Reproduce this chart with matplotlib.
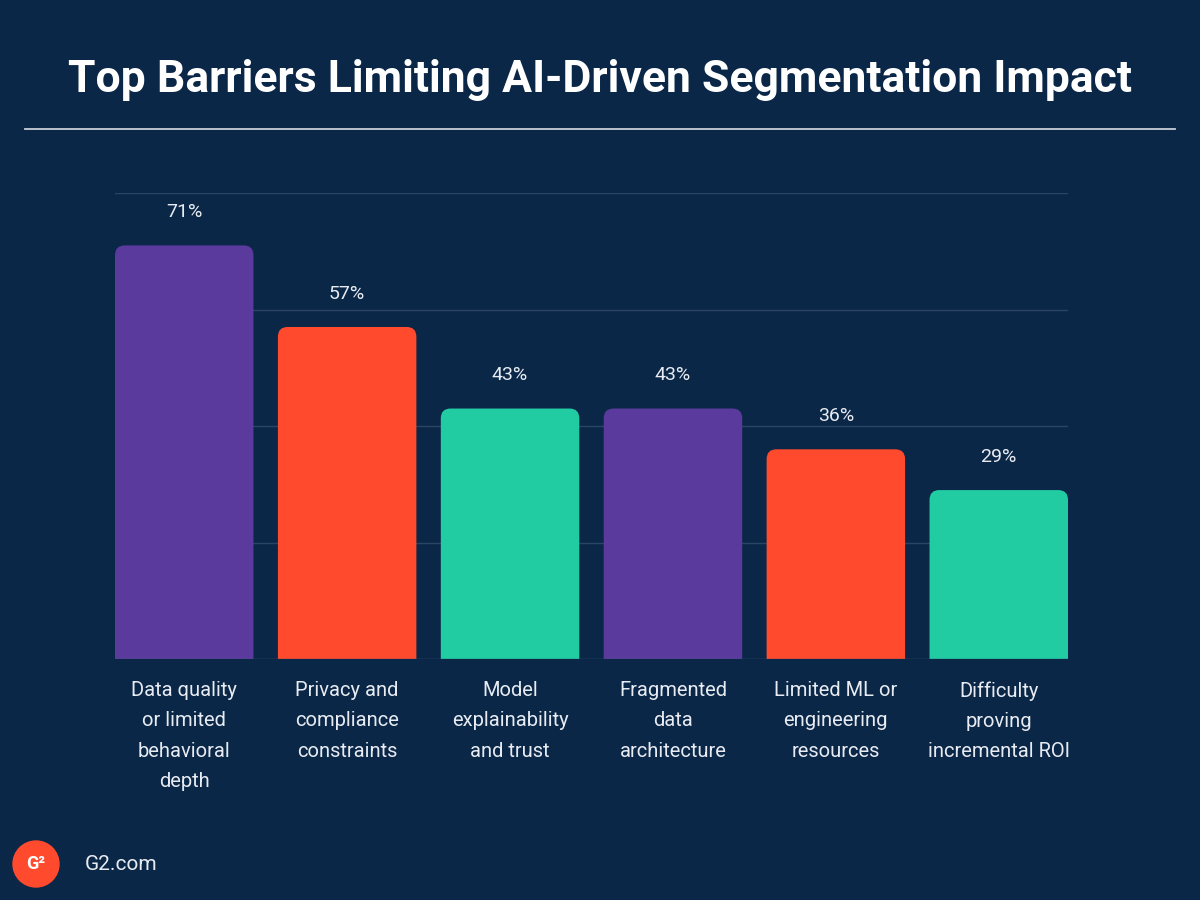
import matplotlib.pyplot as plt
from matplotlib.patches import FancyBboxPatch, Ellipse

categories = ["Data quality\nor limited\nbehavioral\ndepth", "Privacy and\ncompliance\nconstraints",
              "Model\nexplainability\nand trust", "Fragmented\ndata\narchitecture",
              "Limited ML or\nengineering\nresources", "Difficulty\nproving\nincremental ROI"]
values = [71, 57, 43, 43, 36, 29]
colors = ["#5B3A9E", "#FF4A2E", "#22CCA3", "#5B3A9E", "#FF4A2E", "#22CCA3"]
title = "Top Barriers Limiting AI-Driven Segmentation Impact"

bg = "#0B2747"
plt.rcParams['font.family'] = ['Roboto', 'DejaVu Sans']
fig = plt.figure(figsize=(12, 9), dpi=100, facecolor=bg)

fig.text(0.5, 0.911, title, ha='center', va='center', color='white', fontsize=32, fontweight='bold')
fig.add_artist(plt.Line2D([25/1200, 1175/1200], [1-129/900, 1-129/900], color='#C8CED8', lw=1.3))

ax = fig.add_axes([115/1200, 1-659/900, 953/1200, 466/900])
ax.set_facecolor(bg)
n = len(values)
w = 0.85
ax.set_xlim(-w/2, n-1+w/2)
ax.set_ylim(0, 80)
for y in [20, 40, 60, 80]:
    ax.axhline(y, color='#2A4563', lw=1, zorder=0)
aspect = (953/(n-1+w)) / (466/80)
for i, (v, c) in enumerate(zip(values, colors)):
    p = FancyBboxPatch((i - w/2, -5), w, v + 5, boxstyle="round,pad=0,rounding_size=0.06",
                       mutation_aspect=aspect, facecolor=c, edgecolor='none', zorder=2, clip_on=True)
    ax.add_patch(p)
    ax.text(i, v + 4.2, f"{v}%", ha='center', va='bottom', color='#E8ECF2', fontsize=14)
ax.axhline(0, color='#3A5573', lw=1, zorder=3)
ax.set_xticks(range(n))
ax.set_xticklabels(categories, color='#E8ECF2', fontsize=14.5, linespacing=1.75, va='top')
ax.tick_params(axis='x', length=0, pad=16)
ax.set_yticks([])
for s in ax.spines.values():
    s.set_visible(False)

fig.add_artist(Ellipse((36/1200, 1-864/900), 46/1200, 46/900, transform=fig.transFigure, color='#FF4A2E'))
fig.text(36/1200, 1-864/900, "G²", ha='center', va='center', color='white', fontsize=13, fontweight='bold')
fig.text(85/1200, 1-865/900, "G2.com", ha='left', va='center', color='#E8ECF2', fontsize=15)

fig.savefig("out.png", facecolor=bg)
